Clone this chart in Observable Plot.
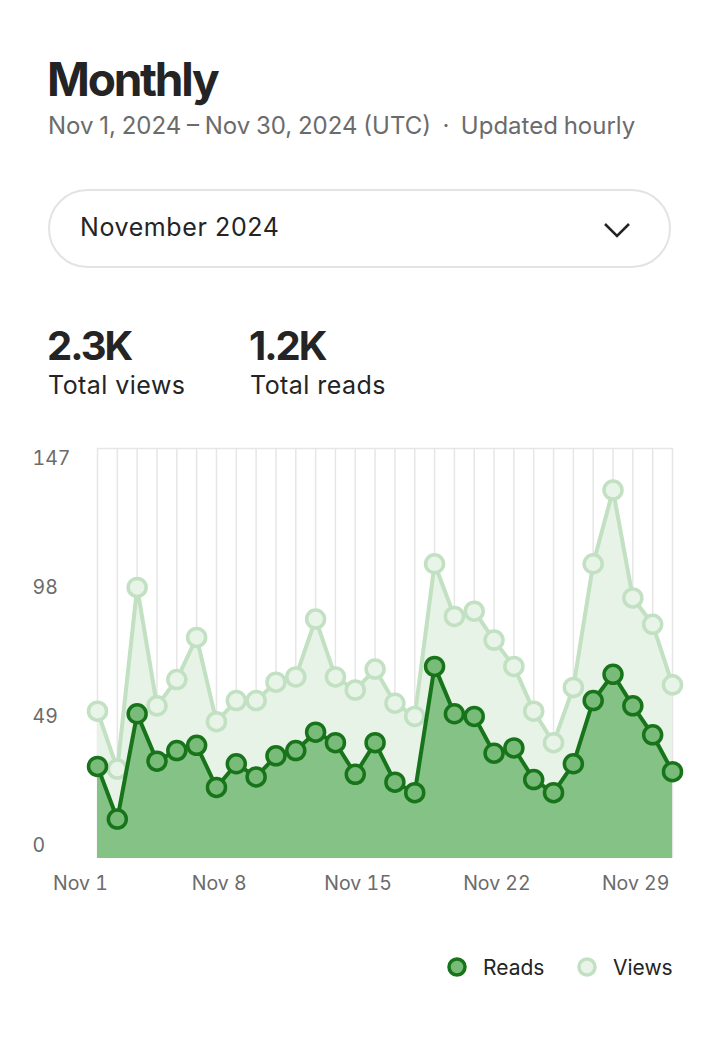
<!DOCTYPE html>
<html><head><meta charset="utf-8">
<script src="https://cdn.jsdelivr.net/npm/d3@7"></script>
<script src="https://cdn.jsdelivr.net/npm/@observablehq/plot@0.6"></script>
<style>
body{margin:0;background:#fff;font-family:Inter,"Noto Sans",sans-serif;color:#242424;}
#page{position:relative;width:720px;height:1060px;overflow:hidden;}
.abs{position:absolute;white-space:nowrap;line-height:1;}
#chart{position:absolute;left:0;top:430px;}
</style></head><body>
<div id="page">
  <div class="abs" id="title" style="left:47px;top:56px;font-size:46px;font-weight:700;letter-spacing:-2.2px;"></div>
  <div class="abs" id="subtitle" style="left:48px;top:114px;font-size:24px;color:#6b6b6b;letter-spacing:0px;word-spacing:-1px;"></div>
  <div class="abs" style="left:48px;top:189px;width:623px;height:79px;box-sizing:border-box;border:2px solid #e3e3e3;border-radius:40px;">
    <div class="abs" id="period" style="left:30px;top:24px;font-size:25px;color:#242424;letter-spacing:0.6px;"></div>
    <svg class="abs" style="left:552px;top:30px;" width="32" height="20"><polyline points="3,3 15,15 27,3" fill="none" stroke="#242424" stroke-width="2.5"/></svg>
  </div>
  <div class="abs" id="v1" style="left:47px;top:326px;font-size:40px;font-weight:700;letter-spacing:-2px;"></div>
  <div class="abs" id="l1" style="left:48px;top:373px;font-size:25px;letter-spacing:0.45px;"></div>
  <div class="abs" id="v2" style="left:249px;top:326px;font-size:40px;font-weight:700;letter-spacing:-2px;"></div>
  <div class="abs" id="l2" style="left:250px;top:373px;font-size:25px;letter-spacing:0.45px;"></div>
  <div id="chart"></div>
  <div class="abs" id="legend" style="left:0;top:955px;width:720px;height:26px;"></div>
</div>
<script>
const titleText = "Monthly";
const subtitleText = "Nov 1, 2024 – Nov 30, 2024 (UTC)  ·  Updated hourly";
const periodText = "November 2024";
const statValues = ["2.3K", "1.2K"];
const statLabels = ["Total views", "Total reads"];
const seriesNames = ["Reads", "Views"];

const days = [1,2,3,4,5,6,7,8,9,10,11,12,13,14,15,16,17,18,19,20,21,22,23,24,25,26,27,28,29,30];
const views = [56,34,103,58,68,84,52,60,60,67,69,91,69,64,72,59,54,112,92,94,83,73,56,44,65,112,140,99,89,66];
const reads = [35,15,55,37,41,43,27,36,31,39,41,48,44,32,44,29,25,73,55,54,40,42,30,25,36,60,70,58,47,33];
const yTicks = [0,49,98,147];
const xTickDays = [1,8,15,22,29];
const yMax = 155.8;

const C = {readLine:"#18741a", readDot:"#79bc79", readArea:"#85c285",
           viewLine:"#c2e0c2", viewDot:"#e9f4e9", viewArea:"#e6f3e6", grid:"#e6e6e6", axis:"#6b6b6b"};

document.getElementById("title").textContent = titleText;
document.getElementById("subtitle").style.whiteSpace = "pre";
document.getElementById("subtitle").textContent = subtitleText;
document.getElementById("period").textContent = periodText;
document.getElementById("v1").textContent = statValues[0];
document.getElementById("v2").textContent = statValues[1];
document.getElementById("l1").textContent = statLabels[0];
document.getElementById("l2").textContent = statLabels[1];

const toDate = d => new Date(Date.UTC(2024, 10, d));
const data = days.map((d, i) => ({date: toDate(d), views: views[i], reads: reads[i]}));

const chart = Plot.plot({
  width: 720, height: 480,
  marginLeft: 97, marginRight: 48, marginTop: 18, marginBottom: 52,
  style: {fontFamily: "Inter, sans-serif", fontSize: "19px", color: C.axis, background: "transparent", overflow: "visible"},
  x: {type: "utc", domain: [toDate(days[0]), toDate(days[days.length - 1])]},
  y: {domain: [0, yMax]},
  marks: [
    Plot.ruleX(data, {x: "date", stroke: C.grid, strokeWidth: 1.5}),
    Plot.ruleY([yMax], {stroke: C.grid, strokeWidth: 1.5}),
    Plot.areaY(data, {x: "date", y: "views", fill: C.viewArea}),
    Plot.areaY(data, {x: "date", y: "reads", fill: C.readArea}),
    Plot.lineY(data, {x: "date", y: "views", stroke: C.viewLine, strokeWidth: 4}),
    Plot.dot(data, {x: "date", y: "views", r: 9, fill: C.viewDot, stroke: C.viewLine, strokeWidth: 3.5}),
    Plot.lineY(data, {x: "date", y: "reads", stroke: C.readLine, strokeWidth: 4}),
    Plot.dot(data, {x: "date", y: "reads", r: 9, fill: C.readDot, stroke: C.readLine, strokeWidth: 3.5}),
    Plot.axisY({ticks: yTicks, tickSize: 0, tickPadding: 0, textAnchor: "start", dx: -65, dy: -13, fill: C.axis, fontSize: 19.5}),
    Plot.axisX({ticks: xTickDays.map(toDate), tickSize: 0, tickPadding: 18, tickFormat: d => `Nov ${d.getUTCDate()}`, dx: -17, fill: C.axis, fontSize: 19.5})
  ]
});
document.getElementById("chart").appendChild(chart);

// legend
const legend = d3.select("#legend");
const items = [
  {name: seriesNames[0], fill: C.readDot, stroke: C.readLine, cx: 457},
  {name: seriesNames[1], fill: C.viewDot, stroke: C.viewLine, cx: 587}
];
items.forEach(it => {
  legend.append("svg").attr("class", "abs").style("left", (it.cx - 12) + "px").style("top", "0px")
    .attr("width", 24).attr("height", 24)
    .append("circle").attr("cx", 12).attr("cy", 12).attr("r", 8)
    .attr("fill", it.fill).attr("stroke", it.stroke).attr("stroke-width", 3.5);
  legend.append("div").attr("class", "abs").style("left", (it.cx + 26) + "px").style("top", "2px")
    .style("font-size", "21px").style("color", "#242424").text(it.name);
});
</script>
</body></html>
